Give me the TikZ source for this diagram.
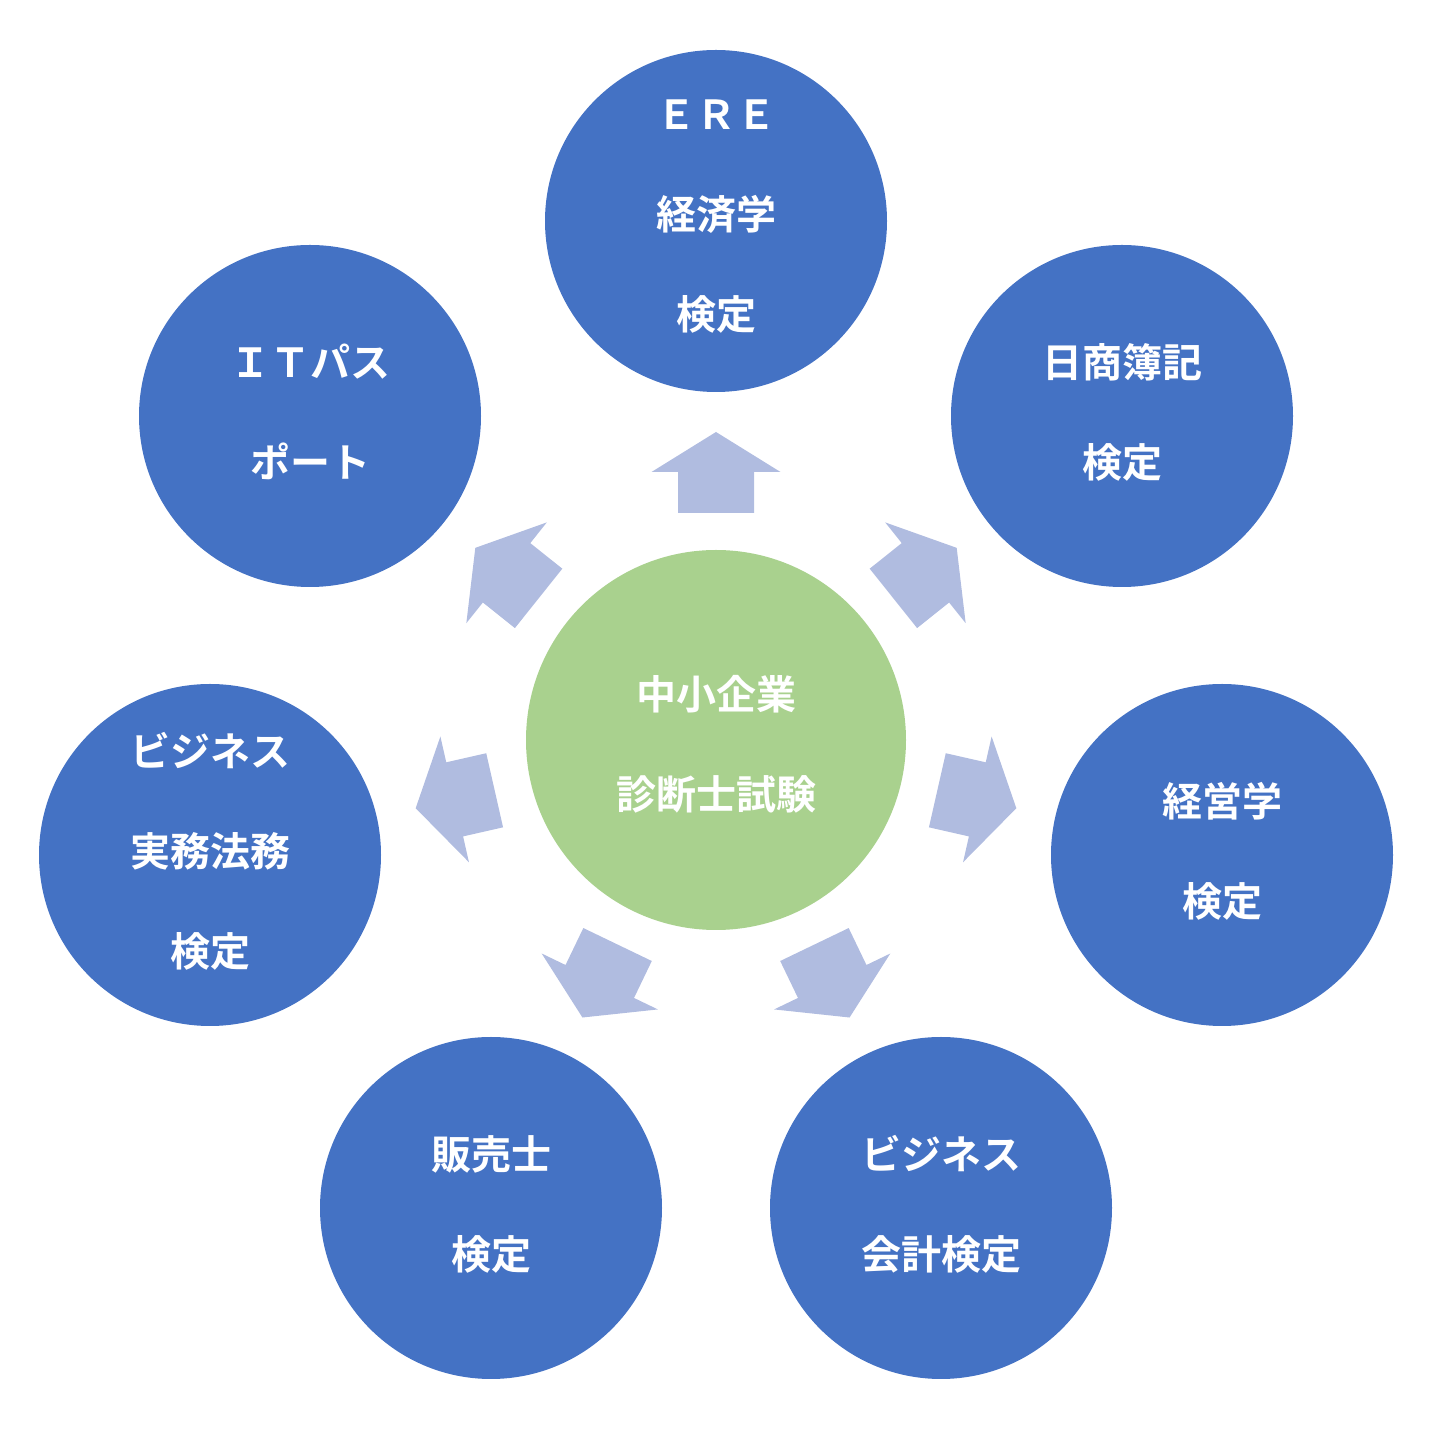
\documentclass[tikz,border=0pt]{standalone}
\usepackage{fontspec}
\setmainfont{Noto Sans CJK JP}[BoldFont={Noto Sans CJK JP Bold}]
\begin{document}
\begin{tikzpicture}[x=0.5pt,y=0.5pt,
  blue/.style={circle,fill={rgb,255:red,68;green,114;blue,196},draw=none,minimum size=342pt*0.5,inner sep=0pt},
  green/.style={circle,fill={rgb,255:red,169;green,209;blue,142},draw=none,minimum size=380pt*0.5,inner sep=0pt},
  lbl/.style={text=white,font=\bfseries\fontsize{20pt}{50pt}\selectfont,align=center},
  arr/.style={fill={rgb,255:red,176;green,188;blue,224},draw=none}]
\useasboundingbox (0,0) rectangle (1429,1431);
\node[green] (c) at (716,691) {};
\node[lbl] (ct) at (716,687) {中小企業\\診断士試験};
\node[blue] (ere) at (716,1210) {};
\node[lbl] at (716,1214) {ＥＲＥ\\経済学\\検定};
\node[blue] (it) at (310,1015) {};
\node[lbl] at (310,1019) {ＩＴパス\\ポート};
\node[blue] (ns) at (1122,1015) {};
\node[lbl] at (1122,1019) {日商簿記\\検定};
\node[blue] (jm) at (210,576) {};
\node[lbl] at (210,580) {ビジネス\\実務法務\\検定};
\node[blue] (kk) at (1222,576) {};
\node[lbl] at (1222,580) {経営学\\検定};
\node[blue] (hb) at (491,223) {};
\node[lbl] at (491,227) {販売士\\検定};
\node[blue] (bk) at (941,223) {};
\node[lbl] at (941,227) {ビジネス\\会計検定};
\foreach \a in {90,38.6,141.4,-12.8,192.8,-64.3,244.3}{
  \begin{scope}[shift={(c.center)},rotate=\a]
    \fill[arr] (227,-38) -- (268,-38) -- (268,-64.5) -- (308,0) -- (268,64.5) -- (268,38) -- (227,38) -- cycle;
  \end{scope}
}
\end{tikzpicture}
\end{document}
